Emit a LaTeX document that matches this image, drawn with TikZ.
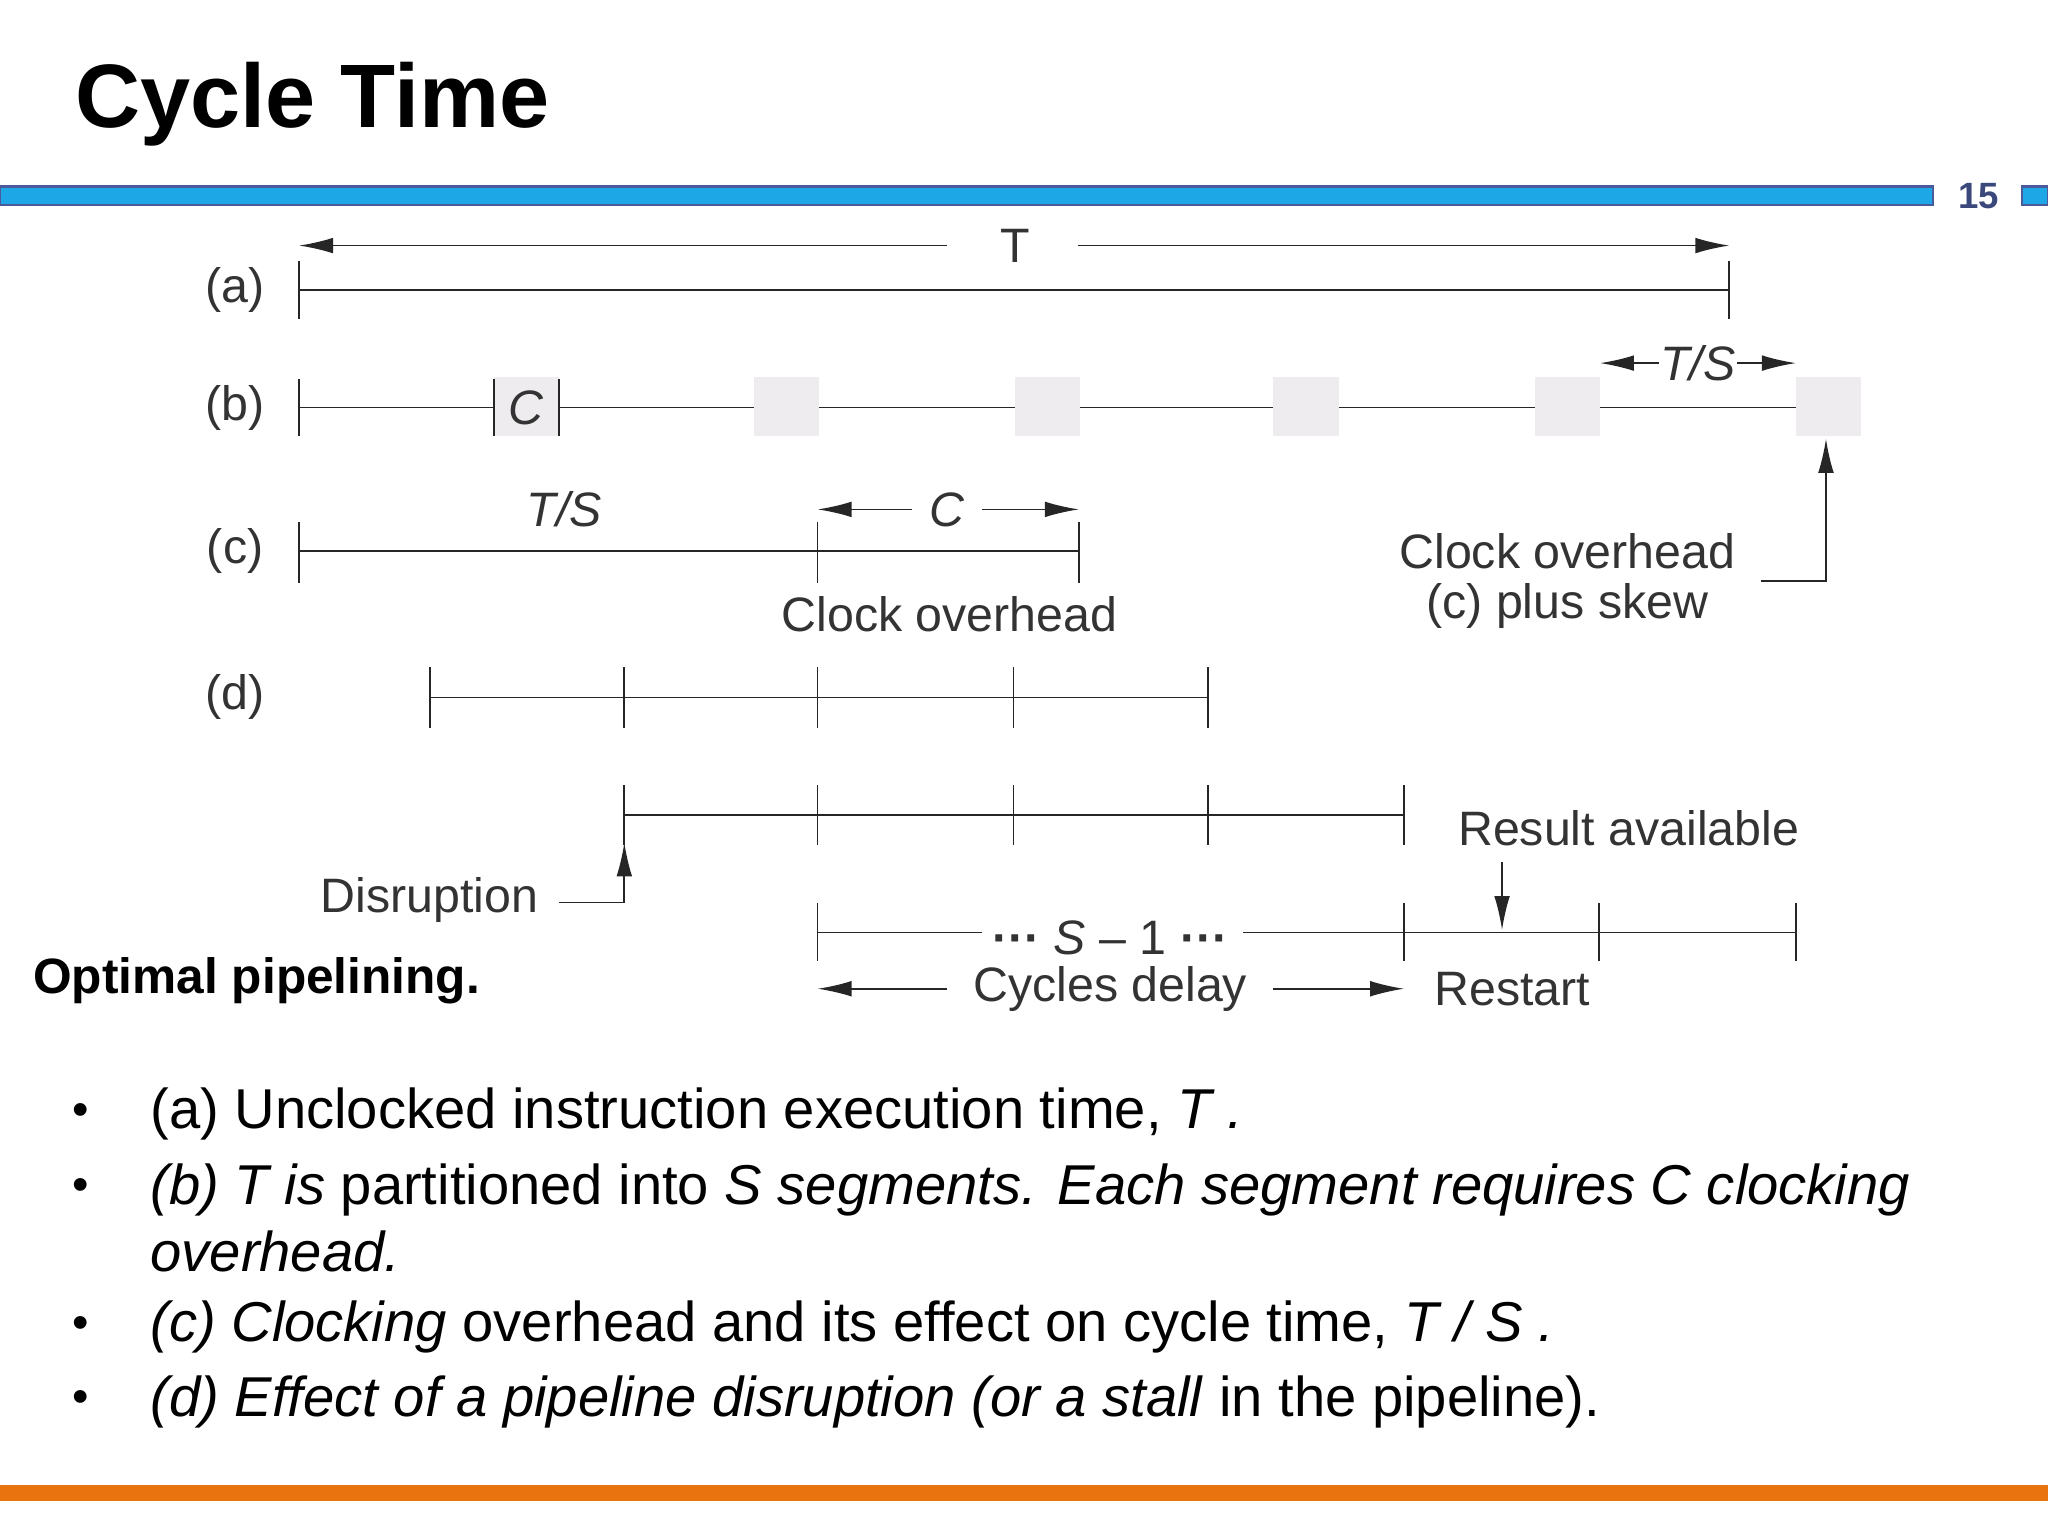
\documentclass[tikz,border=0pt]{standalone}
\usepackage{fontspec}
\setmainfont{Liberation Sans}
\usetikzlibrary{arrows.meta,positioning}
\definecolor{barblue}{HTML}{1EA7E6}
\definecolor{barrim}{HTML}{4A5A9A}
\definecolor{barorange}{HTML}{E8730F}
\definecolor{boxgray}{HTML}{EEECEF}
\begin{document}
\begin{tikzpicture}[x=1pt,y=-1pt,
    lbl/.style={font=\fontsize{37}{42}\selectfont, text=black!80, inner sep=1pt},
    ilbl/.style={lbl, font=\fontsize{37}{42}\selectfont\itshape},
    tline/.style={line width=1.3pt, black!85},
    tip/.style={-{Latex[length=26pt,width=12pt]}},
    bul/.style={anchor=west, font=\fontsize{43}{47}\selectfont, inner sep=0pt, align=left}]
    \useasboundingbox (0,0) rectangle (1568,1176);
    
    % header
    \node[anchor=west, font=\fontsize{69}{74}\selectfont\bfseries] (title) at (54,80) {Cycle Time};
    \draw[barrim, fill=barblue, line width=2pt] (0,143) rectangle (1480,157);
    \draw[barrim, fill=barblue, line width=2pt] (1548,143) rectangle (1568,157);
    \node[font=\fontsize{28}{30}\selectfont\bfseries, text=barrim!80!black] (page) at (1515,150) {15};
    \fill[barorange] (0,1137) rectangle (1568,1149);
    
    % row labels
    \foreach \r/\y in {a/222, b/312, c/422, d/534}
        \node[lbl] (row\r) at (180,\y) {(\r)};
    
    % (a)
    \draw[tline] (229,222) -- (1324,222);
    \foreach \x in {229,1324} \draw[tline] (\x,200) -- (\x,244);
    \node[lbl] (T) at (777,188) {T};
    \draw[tline, tip] (725,188) -- (229,188);
    \draw[tline, tip] (825,188) -- (1324,188);
    
    % (b)
    \draw[tline] (229,312) -- (1375,312);
    \draw[tline] (229,290) -- (229,334);
    \foreach \x in {378,577,777,975,1175,1375}
        \fill[boxgray] (\x,289) rectangle (\x+50,334);
    \foreach \x in {378,428} \draw[tline] (\x,290) -- (\x,334);
    \node[ilbl] (C1) at (403,312) {C};
    \node[ilbl] (TS1) at (1300,278) {T/S};
    \draw[tline, tip] (TS1) -- (1225,278);
    \draw[tline, tip] (TS1) -- (1375,278);
    
    % (c)
    \draw[tline] (229,422) -- (826,422);
    \foreach \x in {229,626,826} \draw[tline] (\x,400) -- (\x,446);
    \node[ilbl] (TS2) at (432,390) {T/S};
    \node[ilbl] (C2) at (725,390) {C};
    \draw[tline, tip] (698,390) -- (626,390);
    \draw[tline, tip] (752,390) -- (826,390);
    \node[lbl] (ovh) at (727,470) {Clock overhead};
    \node[lbl] (skew1) at (1200,422) {Clock overhead};
    \node[lbl] (skew2) at (1200,464) {(c) plus skew};
    \draw[tline, tip] (1348,445) -- (1398,445) -- (1398,336);
    
    % (d)
    \draw[tline] (329,534) -- (925,534);
    \foreach \x in {329,478,626,776,925} \draw[tline] (\x,511) -- (\x,557);
    \draw[tline] (478,624) -- (1075,624);
    \foreach \x in {478,626,776,925,1075} \draw[tline] (\x,601) -- (\x,647);
    \node[lbl] (result) at (1247,634) {Result available};
    \node[lbl] (disr) at (329,689) {Disruption};
    \draw[tline, tip] (428,691) -- (478,691) -- (478,645);
    \node[lbl] (S1) at (850,718) {\textbf{···} \textit{S} -- 1 \textbf{···}};
    \draw[tline] (626,714) -- (752,714);
    \draw[tline] (952,714) -- (1375,714);
    \foreach \x in {626,1075,1224,1375} \draw[tline] (\x,691) -- (\x,736);
    \draw[tline, tip] (1150,660) -- (1150,712);
    \node[lbl] (cycles) at (850,757) {Cycles delay};
    \node[lbl] (restart) at (1158,757) {Restart};
    \draw[tline, tip] (725,757) -- (626,757);
    \draw[tline, tip] (975,757) -- (1075,757);
    
    \node[anchor=west, font=\fontsize{38}{42}\selectfont\bfseries] (optimal) at (22,751) {Optimal pipelining.};
    
    % bullets
    \foreach \y in {853,911,1016,1073} \node[font=\fontsize{36}{40}\selectfont] at (62,\y) {•};
    \node[bul] (ba) at (115,853) {(a) Unclocked instruction execution time, \textit{T .}};
    \node[bul] (bb) at (115,911) {\textit{(b) T is} partitioned into \textit{S segments. Each segment requires C clocking}};
    \node[bul] (bb2) at (115,958) {\textit{overhead.}};
    \node[bul] (bc) at (115,1016) {\textit{(c) Clocking} overhead and its effect on cycle time, \textit{T / S .}};
    \node[bul] (bd) at (115,1073) {\textit{(d) Effect of a pipeline disruption (or a stall} in the pipeline).};
\end{tikzpicture}
\end{document}
